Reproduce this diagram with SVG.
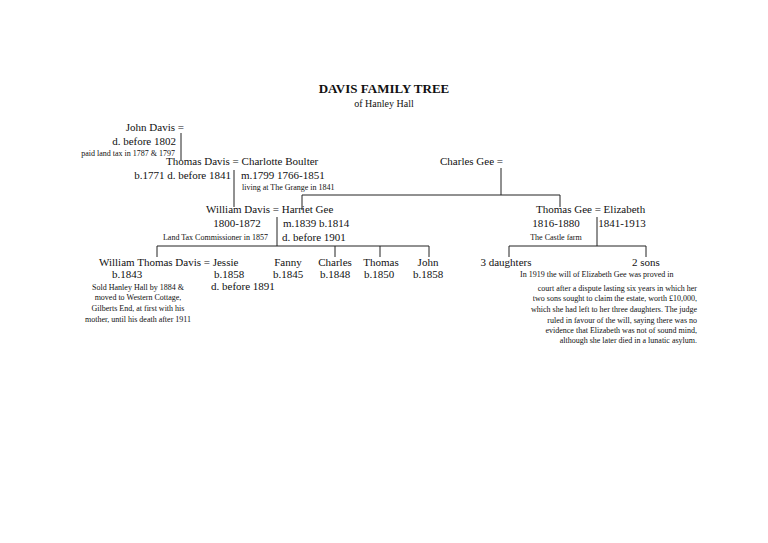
<svg xmlns="http://www.w3.org/2000/svg" width="768" height="543" viewBox="0 0 768 543">
<style>
text{font-family:"Liberation Serif",serif;fill:#111}
.n{font-size:11px}
.s{font-size:8px}
.m{text-anchor:middle}
.e{text-anchor:end}
line,polyline{stroke:#222;stroke-width:1;fill:none}
</style>
<rect width="768" height="543" fill="#fff"/>
<g id="title"><text x="384" y="93" class="m" font-size="13" font-weight="bold">DAVIS FAMILY TREE</text><text x="384" y="107" class="m" font-size="10">of Hanley Hall</text></g>
<g id="connectors">
<line x1="181" y1="133" x2="181" y2="160"/>
<line x1="234" y1="170" x2="234" y2="207"/>
<line x1="501" y1="168" x2="501" y2="195"/>
<polyline points="302,210 302,195 560,195 560,207"/>
<line x1="277" y1="217" x2="277" y2="246"/>
<line x1="157" y1="246" x2="429" y2="246"/>
<line x1="157" y1="246" x2="157" y2="257"/>
<line x1="335" y1="246" x2="335" y2="257"/>
<line x1="380" y1="246" x2="380" y2="257"/>
<line x1="429" y1="246" x2="429" y2="257"/>
<line x1="597" y1="217" x2="597" y2="246"/>
<polyline points="509,257 509,246 646,246 646,257"/>
</g>
<g id="john"><text x="184" y="131" class="n e">John Davis =</text><text x="176" y="145" class="n e">d. before 1802</text><text x="175" y="156" class="s e">paid land tax in 1787 &amp; 1797</text></g>
<g id="thomas"><text x="166" y="165" class="n">Thomas Davis = Charlotte Boulter</text><text x="231" y="179" class="n e">b.1771 d. before 1841</text><text x="241" y="179" class="n">m.1799  1766-1851</text><text x="242" y="190" class="s">living at The Grange in 1841</text></g>
<g id="charlesgee"><text x="440" y="165" class="n">Charles Gee =</text></g>
<g id="william"><text x="206" y="213" class="n">William Davis = Harriet Gee</text><text x="237" y="227" class="n m">1800-1872</text><text x="283" y="227" class="n">m.1839  b.1814</text><text x="268" y="240" class="s e">Land Tax Commissioner in 1857</text><text x="282" y="241" class="n">d. before 1901</text></g>
<g id="thomasgee"><text x="536" y="213" class="n">Thomas Gee = Elizabeth</text><text x="556" y="227" class="n m">1816-1880</text><text x="622" y="227" class="n m">1841-1913</text><text x="556" y="240" class="s m">The Castle farm</text></g>
<g id="wtd"><text x="99" y="266" class="n">William Thomas Davis = Jessie</text><text x="112" y="278" class="n">b.1843</text><text x="214" y="278" class="n">b.1858</text><text x="211" y="290" class="n">d. before 1891</text>
<text x="138" y="290" class="s m">Sold Hanley Hall by 1884 &amp;</text><text x="138" y="300" class="s m">moved to Western Cottage,</text><text x="138" y="311" class="s m">Gilberts End,  at first with his</text><text x="138" y="322" class="s m">mother, until his death after 1911</text></g>
<g id="fanny"><text x="288" y="266" class="n m">Fanny</text><text x="288" y="278" class="n m">b.1845</text></g>
<g id="charles"><text x="335" y="266" class="n m">Charles</text><text x="335" y="278" class="n m">b.1848</text></g>
<g id="thomas2"><text x="381" y="266" class="n m">Thomas</text><text x="379" y="278" class="n m">b.1850</text></g>
<g id="johnc"><text x="428" y="266" class="n m">John</text><text x="428" y="278" class="n m">b.1858</text></g>
<g id="daughters"><text x="506" y="266" class="n m">3 daughters</text></g>
<g id="sons"><text x="646" y="266" class="n m">2 sons</text>
<text x="520" y="277" class="s">In 1919 the will of Elizabeth Gee was proved in</text>
<text x="697" y="291" class="s e">court after a dispute lasting six years in which her</text>
<text x="697" y="301" class="s e">two sons sought to claim the estate,  worth £10,000,</text>
<text x="697" y="312" class="s e">which she had left to her three daughters. The judge</text>
<text x="697" y="323" class="s e">ruled in favour of the will, saying there was no</text>
<text x="697" y="333" class="s e">evidence that Elizabeth was not of sound  mind,</text>
<text x="697" y="343" class="s e">although she later died in a lunatic asylum.</text></g>
</svg>
